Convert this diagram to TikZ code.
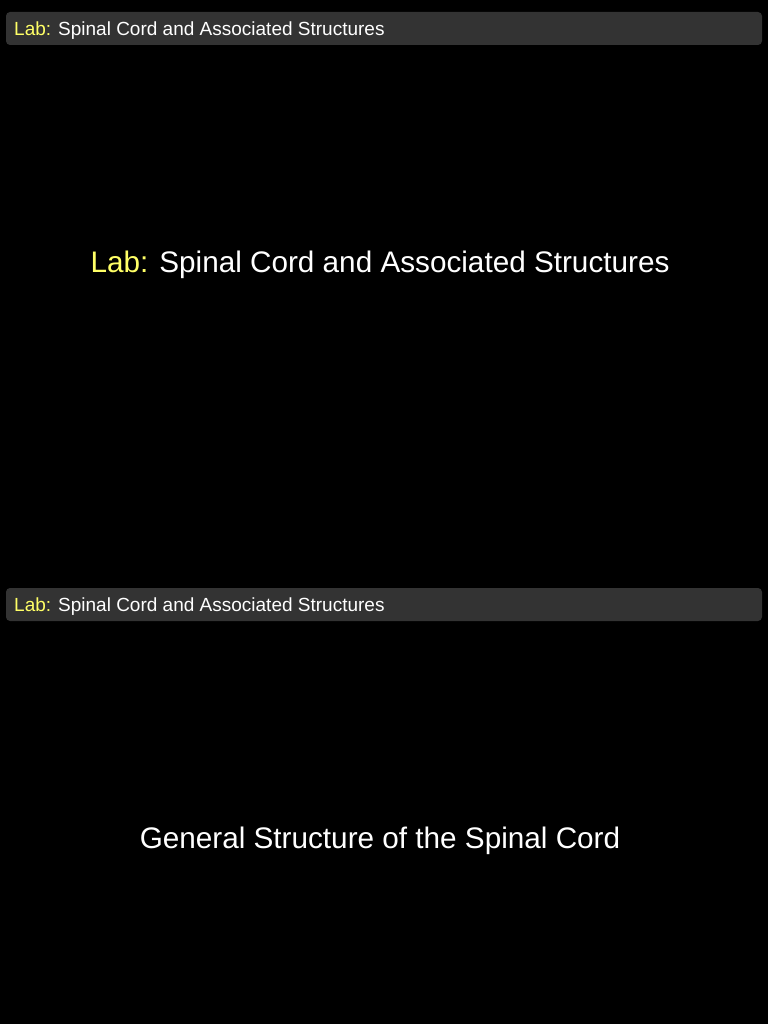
\documentclass[tikz,border=0pt]{standalone}
\usepackage{fontspec}
\setmainfont{Liberation Sans}
\definecolor{bar}{HTML}{333333}
\definecolor{laby}{HTML}{FFFF66}
\begin{document}
\begin{tikzpicture}[x=1pt,y=-1pt,
  barbox/.style={fill=bar,rounded corners=4pt,draw=none},
  bartext/.style={anchor=west,text=white,font=\fontsize{19}{21}\selectfont,inner sep=0pt},
  bigtext/.style={text=white,font=\fontsize{29.7}{32}\selectfont,inner sep=0pt}]
\fill[black] (0,0) rectangle (768,1024);
\useasboundingbox (0,0) rectangle (768,1024);
\fill[barbox] (6,12) rectangle (762,45);
\node[bartext] (h1) at (14,31) {\textcolor{laby}{Lab:} Spinal Cord and Associated Structures};
\node[bigtext] (t1) at (380,265) {\textcolor{laby}{Lab:} Spinal Cord and Associated Structures};
\fill[barbox] (6,588) rectangle (762,621);
\node[bartext] (h2) at (14,607) {\textcolor{laby}{Lab:} Spinal Cord and Associated Structures};
\node[bigtext] (t2) at (380,841) {General Structure of the Spinal Cord};
\end{tikzpicture}
\end{document}
